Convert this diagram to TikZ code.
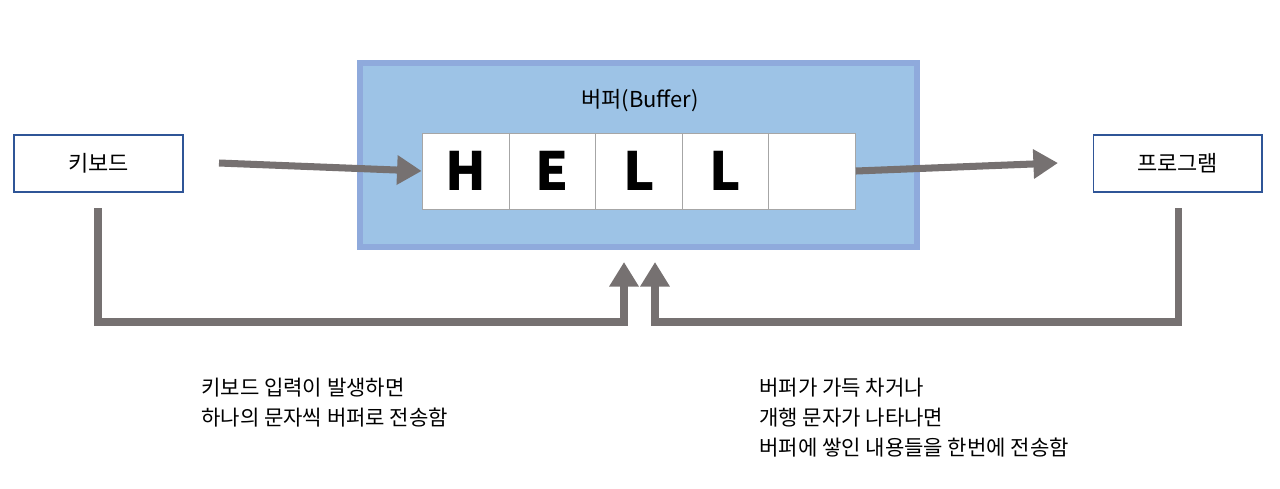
\documentclass[tikz,border=0pt]{standalone}
\usepackage{fontspec}
\setmainfont{Noto Sans CJK KR}
\usetikzlibrary{arrows.meta}
\definecolor{bufedge}{HTML}{8FAADC}
\definecolor{buffill}{HTML}{9DC3E6}
\definecolor{boxedge}{HTML}{2F5597}
\definecolor{arr}{HTML}{767171}
\tikzset{
  px/.style={x=0.02cm,y=-0.02cm},
  cell/.style={draw=gray!70,fill=white,minimum width=1.74cm,minimum height=1.52cm,inner sep=0,font=\fontsize{30}{30}\selectfont\bfseries},
  sbox/.style={draw=boxedge,line width=0.6pt,fill=white,minimum width=3.38cm,minimum height=1.14cm,font=\fontsize{12.5}{14}\selectfont},
  flow/.style={draw=arr,line width=4pt,-{Triangle[length=14pt,width=16pt]}},
  lbl/.style={font=\fontsize{12}{17}\selectfont,align=left,anchor=north west}
}
\begin{document}
\begin{tikzpicture}[px]
\useasboundingbox (0,0) rectangle (1280,488);
\draw[draw=bufedge,line width=3.4pt,fill=buffill] (360,63) rectangle (917,247);
\node[font=\fontsize{12.5}{14}\selectfont] (bl) at (640,101) {버퍼(Buffer)};
\node[cell] (c1) at (465.5,171) {H};
\node[cell] (c2) at (552.5,171) {E};
\node[cell] (c3) at (639,171) {L};
\node[cell] (c4) at (725.5,171) {L};
\node[cell] (c5) at (812,171) {};
\node[sbox] (kb) at (98.5,163.5) {키보드};
\node[sbox] (pg) at (1177.5,163.5) {프로그램};
\coordinate (k1) at (219,163);
\draw[flow] (k1) -- (c1.west);
\coordinate (p1) at (1058,163);
\draw[flow] (c5.east) -- (p1);
\coordinate (a1) at (98,208);
\coordinate (a2) at (624,262);
\draw[flow] (a1) |- (624,322) -- (a2);
\coordinate (b1) at (1178,208);
\coordinate (b2) at (655,262);
\draw[flow] (b1) |- (655,322) -- (b2);
\node[lbl] (t1) at (195,372) {키보드 입력이 발생하면\\하나의 문자씩 버퍼로 전송함};
\node[lbl] (t2) at (753,372) {버퍼가 가득 차거나\\개행 문자가 나타나면\\버퍼에 쌓인 내용들을 한번에 전송함};
\end{tikzpicture}
\end{document}
